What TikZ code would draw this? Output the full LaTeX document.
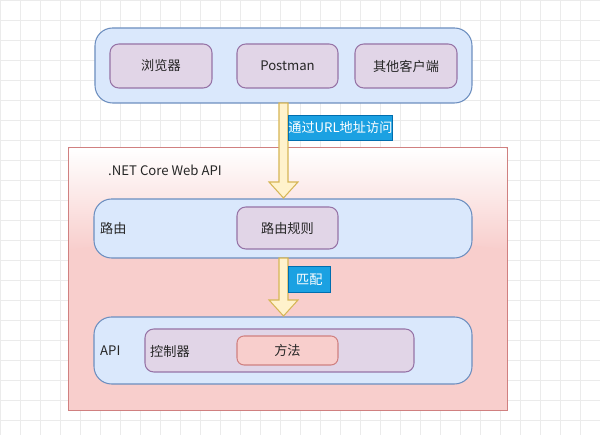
\documentclass[tikz,border=0pt]{standalone}
\usepackage{fontspec}
\setmainfont{Liberation Sans}
\newfontfamily\cjk{Noto Sans CJK SC}
\begin{document}
\begin{tikzpicture}[x=0.02cm,y=-0.02cm,
  cont/.style={draw=blueS,fill=blueF,rounded corners=10pt,line width=0.6pt},
  inner/.style={draw=purpS,fill=purpF,rounded corners=5pt,line width=0.6pt},
  lbl/.style={fill=lblF,draw=lblS,text=white,font=\cjk\fontsize{7.5}{9}\selectfont,inner sep=0pt},
  txt/.style={font=\cjk\fontsize{7.5}{9}\selectfont,text=black!85},
  arr/.style={draw=yelS,fill=yelF,line width=0.6pt,line join=miter}]
\definecolor{blueF}{HTML}{DAE8FC}\definecolor{blueS}{HTML}{6C8EBF}
\definecolor{purpF}{HTML}{E1D5E7}\definecolor{purpS}{HTML}{9673A6}
\definecolor{redF}{HTML}{F8CECC}\definecolor{redS}{HTML}{D08080}
\definecolor{yelF}{HTML}{FFF2CC}\definecolor{yelS}{HTML}{D6B656}
\definecolor{lblF}{HTML}{1BA1E2}\definecolor{lblS}{HTML}{006EAF}
\useasboundingbox (0,0) rectangle (600,435);
\fill[white] (0,0) rectangle (600,435);
\draw[black!8,line width=0.3pt] (0cm,0cm) grid[step=0.4cm] (12cm,-8.7cm);
% big red container
\node[fill=redF,minimum width=438*0.02cm,minimum height=262*0.02cm,inner sep=0] (core) at (288,279) {};
\shade[top color=white,bottom color=redF] (69.5,148.5) rectangle (506.5,250);
\fill[redF] (69.5,250) .. controls (200,230) and (376,230) .. (506.5,250) -- cycle;
\draw[redS,line width=0.6pt] (core.north west) rectangle (core.south east);
\node[txt,anchor=west] (coret) at (102,170) {.NET Core Web API};
% top container
\node[cont,minimum width=377*0.02cm,minimum height=75*0.02cm] (client) at (283.5,65.5) {};
\node[inner,txt,minimum width=102*0.02cm,minimum height=44*0.02cm] (b1) at (161,66) {浏览器};
\node[inner,txt,minimum width=101*0.02cm,minimum height=44*0.02cm] (b2) at (287.5,66) {Postman};
\node[inner,txt,minimum width=102*0.02cm,minimum height=44*0.02cm] (b3) at (406,66) {其他客户端};
% route
\node[cont,minimum width=378*0.02cm,minimum height=59*0.02cm] (route) at (283,228.5) {};
\node[txt,anchor=west] (routet) at (94,228) {路由};
\node[inner,txt,minimum width=101*0.02cm,minimum height=42*0.02cm] (rule) at (287.5,228) {路由规则};
% api
\node[cont,minimum width=378*0.02cm,minimum height=67*0.02cm] (api) at (283,350.5) {};
\node[txt,anchor=west] (apit) at (94,351) {API};
\node[inner,minimum width=269*0.02cm,minimum height=43*0.02cm] (ctrl) at (279.5,350.5) {};
\node[txt,anchor=west] (ctrlt) at (144,351) {控制器};
\node[draw=redS,fill=redF,rounded corners=4pt,line width=0.6pt,txt,minimum width=101*0.02cm,minimum height=29*0.02cm] (method) at (287.5,350.5) {方法};
% arrows
\draw[arr] (279,103) -- (279,182) -- (269,182) -- (283.5,198) -- (298,182) -- (288,182) -- (288,103) -- cycle;
\draw[arr] (279,258) -- (279,300) -- (269,300) -- (283.5,316) -- (298,300) -- (288,300) -- (288,258) -- cycle;
\node[lbl,minimum width=101*0.02cm,minimum height=25*0.02cm,anchor=north west] (l1) at (288,115) {通过URL地址访问};
\node[lbl,minimum width=42*0.02cm,minimum height=26*0.02cm,anchor=north west] (l2) at (288,266) {匹配};
\end{tikzpicture}
\end{document}
